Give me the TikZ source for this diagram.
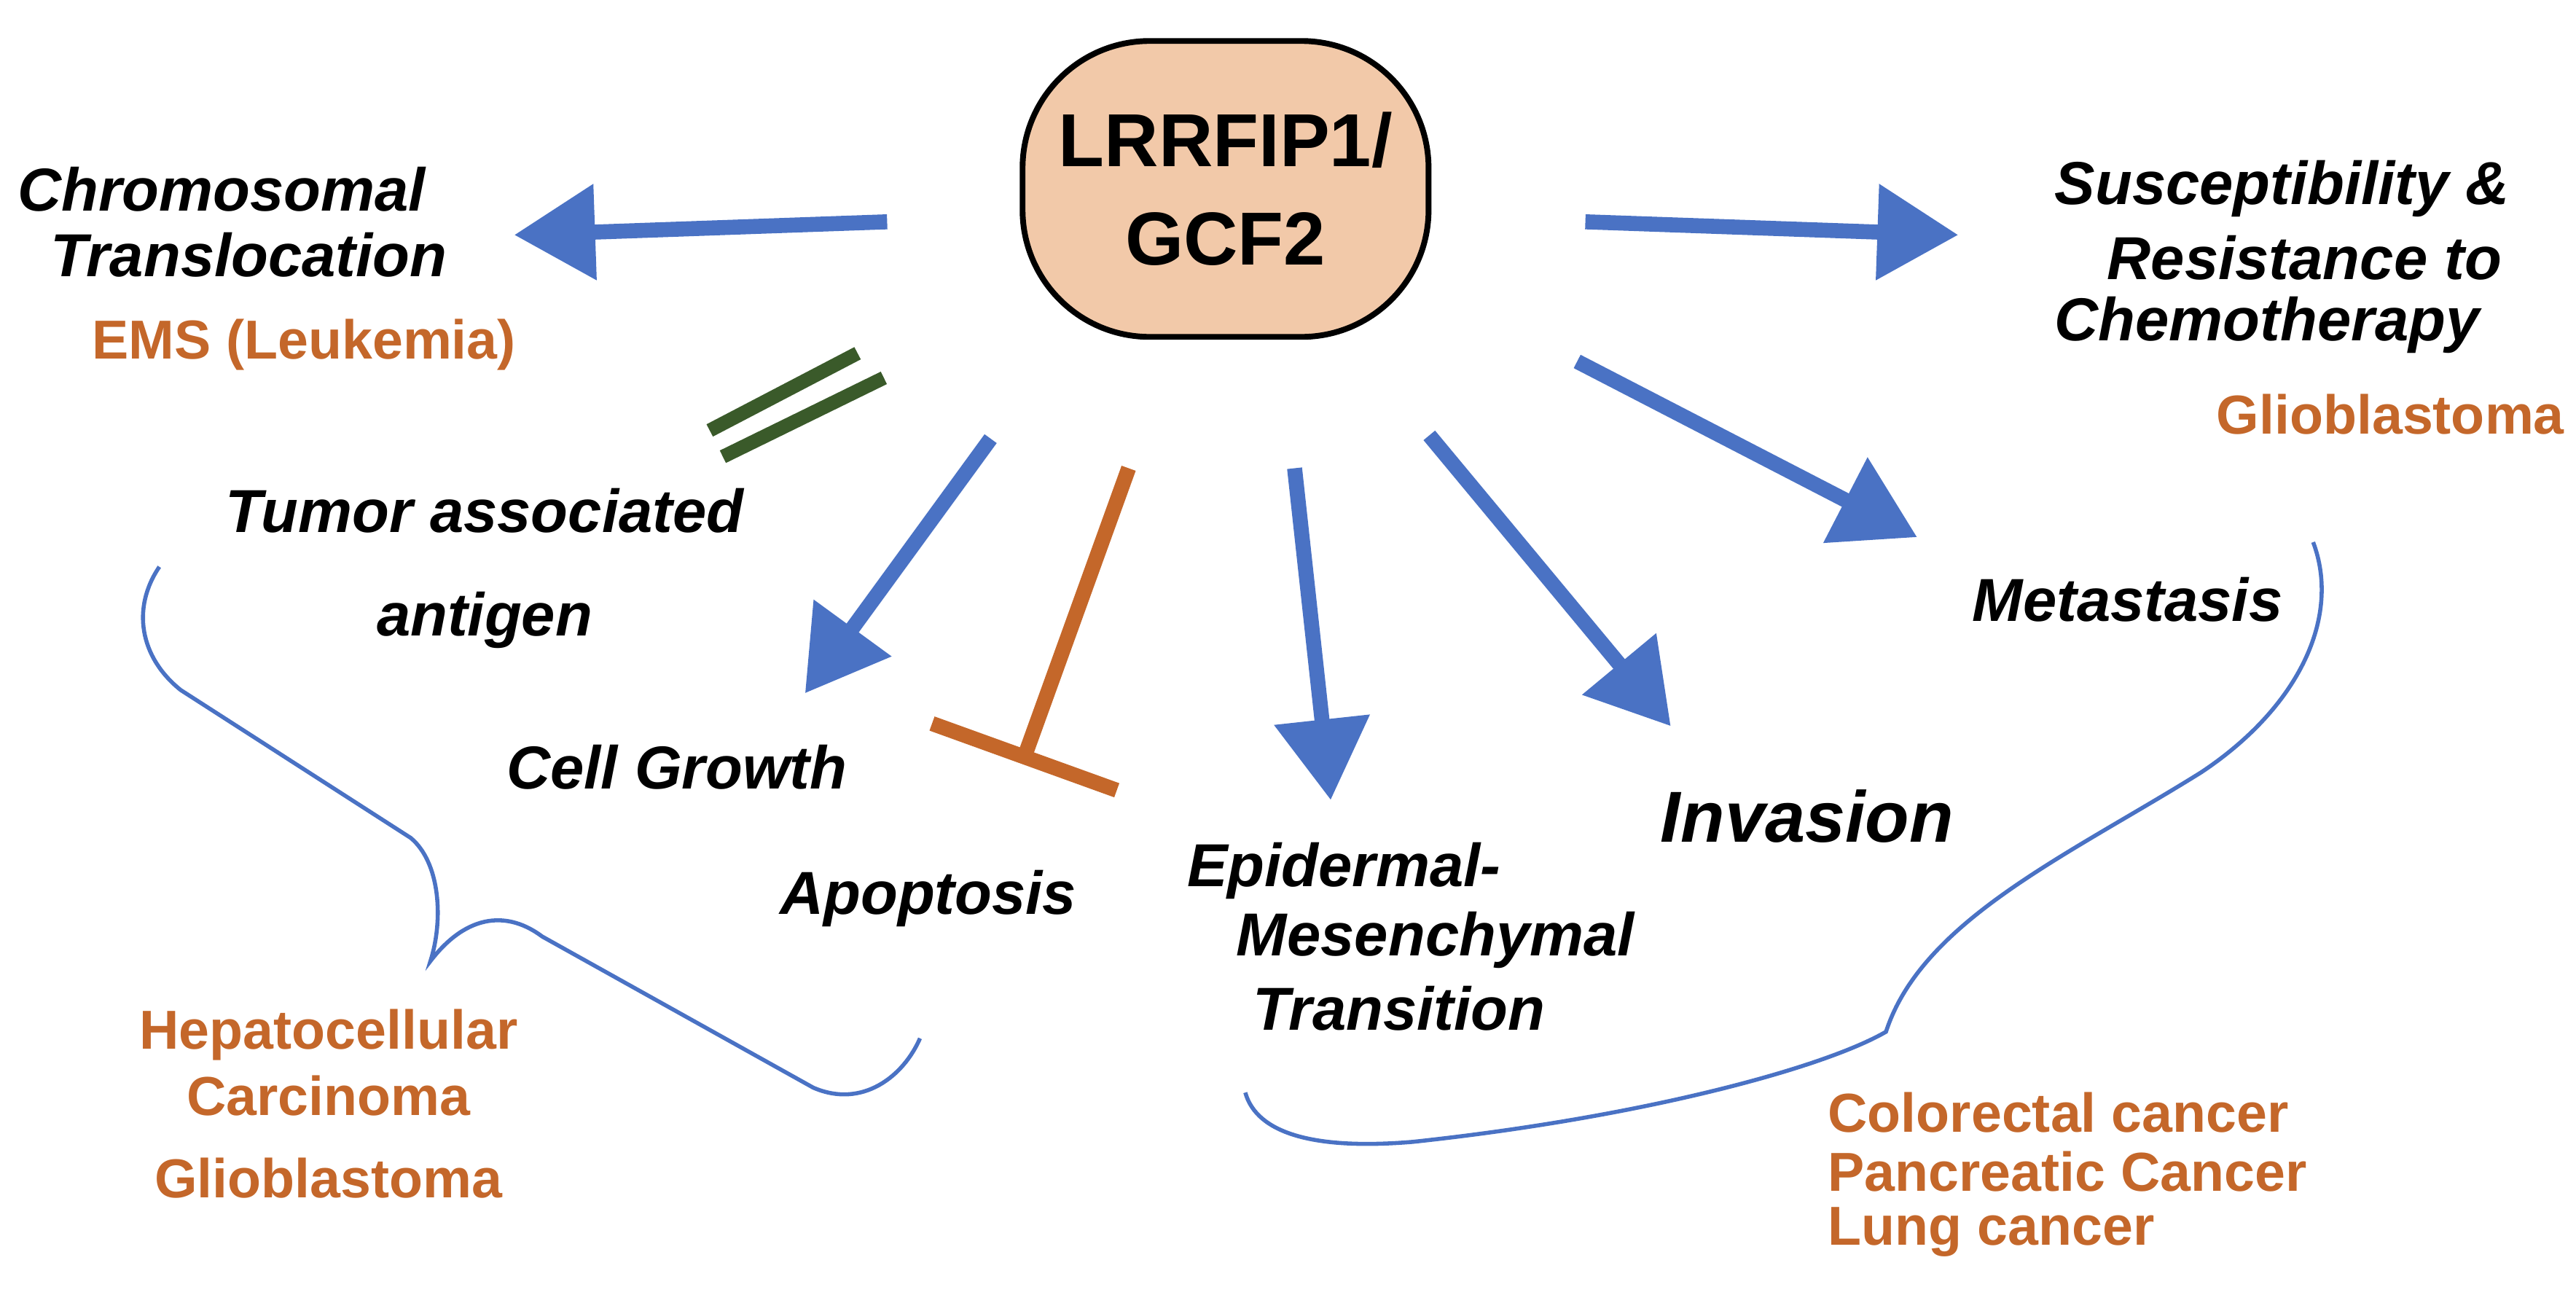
\documentclass[tikz,border=0pt]{standalone}
\usepackage{fontspec}
\setmainfont{Liberation Sans}
\usetikzlibrary{arrows.meta}
\definecolor{ablue}{HTML}{4A72C4}
\definecolor{aorange}{HTML}{C4672A}
\definecolor{peach}{HTML}{F2C9A9}
\definecolor{dgreen}{HTML}{3A5A2A}
\begin{document}
\begin{tikzpicture}[x=0.01cm,y=-0.01cm,
 lab/.style={font=\fontsize{10.5}{12}\selectfont\bfseries\itshape,align=center,inner sep=0},
 org/.style={font=\fontsize{9.5}{11}\selectfont\bfseries,text=aorange,inner sep=0},
 arr/.style={ablue,line width=2.6pt,-{Triangle[length=14pt,width=16pt]}},
 brace/.style={ablue,line width=0.7pt}]
\useasboundingbox (0,0) rectangle (1568,788);
\node[draw=black,line width=1pt,fill=peach,rounded corners=22pt,minimum width=2.47cm,minimum height=1.8cm,font=\fontsize{13}{17}\selectfont\bfseries,align=center] (c) at (746,115) {LRRFIP1/\\GCF2};
\node[lab,anchor=west] (chr1) at (10,115) {Chromosomal};
\node[lab,anchor=west] (chr2) at (30,155) {Translocation};
\node[org] (ems) at (185,210) {EMS (Leukemia)};
\node[lab] (tum) at (295,346) {Tumor associated\\[6pt]antigen};
\node[lab] (cg) at (412,467) {Cell Growth};
\node[lab] (apo) at (565,547) {Apoptosis};
\node[lab,anchor=west] (e1) at (722,530) {Epidermal-};
\node[lab,anchor=west] (e2) at (752,572) {Mesenchymal};
\node[lab,anchor=west] (e3) at (762,614) {Transition};
\node[lab,font=\fontsize{12.5}{14}\selectfont\bfseries\itshape] (inv) at (1100,497) {Invasion};
\node[lab] (met) at (1295,365) {Metastasis};
\node[lab,anchor=west] (s1) at (1250,115) {Susceptibility \&};
\node[lab,anchor=west] (s2) at (1282,157) {Resistance to};
\node[lab,anchor=west] (s3) at (1250,198) {Chemotherapy};
\node[org] (gl1) at (1455,252) {Glioblastoma};
\node[org] (hc1) at (200,630) {Hepatocellular};
\node[org] (hc2) at (200,667) {Carcinoma};
\node[org] (gl2) at (200,717) {Glioblastoma};
\node[org,anchor=west] (cc1) at (1112,677) {Colorectal cancer};
\node[org,anchor=west] (cc2) at (1112,713) {Pancreatic Cancer};
\node[org,anchor=west] (cc3) at (1112,750) {Lung cancer};
% arrows
\coordinate (a1s) at (540,135); \coordinate (a1e) at (313,143);
\coordinate (a2s) at (965,135); \coordinate (a2e) at (1192,143);
\coordinate (a3s) at (603,267); \coordinate (a3e) at (490,422);
\coordinate (a4s) at (788,285); \coordinate (a4e) at (810,487);
\coordinate (a5s) at (870,265); \coordinate (a5e) at (1017,442);
\coordinate (a6s) at (960,220); \coordinate (a6e) at (1167,327);
\draw[arr] (a1s) -- (a1e);
\draw[arr] (a2s) -- (a2e);
\draw[arr] (a3s) -- (a3e);
\draw[arr] (a4s) -- (a4e);
\draw[arr] (a5s) -- (a5e);
\draw[arr] (a6s) -- (a6e);
\coordinate (is) at (687,285); \coordinate (ie) at (622,465);
\draw[aorange,line width=2.6pt,-{Bar[width=34pt]}] (is) -- (ie);
\coordinate (g1) at (432,262); \coordinate (g2) at (522,215);
\coordinate (g3) at (440,278); \coordinate (g4) at (538,230);
\draw[dgreen,line width=2.4pt] (g1) -- (g2) (g3) -- (g4);
% braces
\draw[brace] (97,345) .. controls (80,370) and (85,400) .. (110,420)
  -- (250,510) .. controls (268,525) and (270,560) .. (262,585)
  .. controls (285,555) and (310,555) .. (330,570)
  -- (495,662) .. controls (525,675) and (550,655) .. (560,632);
\draw[brace] (1408,330) .. controls (1425,375) and (1400,430) .. (1340,470)
  .. controls (1260,520) and (1170,560) .. (1148,628)
  .. controls (1110,650) and (1000,680) .. (860,695)
  .. controls (800,700) and (765,690) .. (758,665);
\end{tikzpicture}
\end{document}
